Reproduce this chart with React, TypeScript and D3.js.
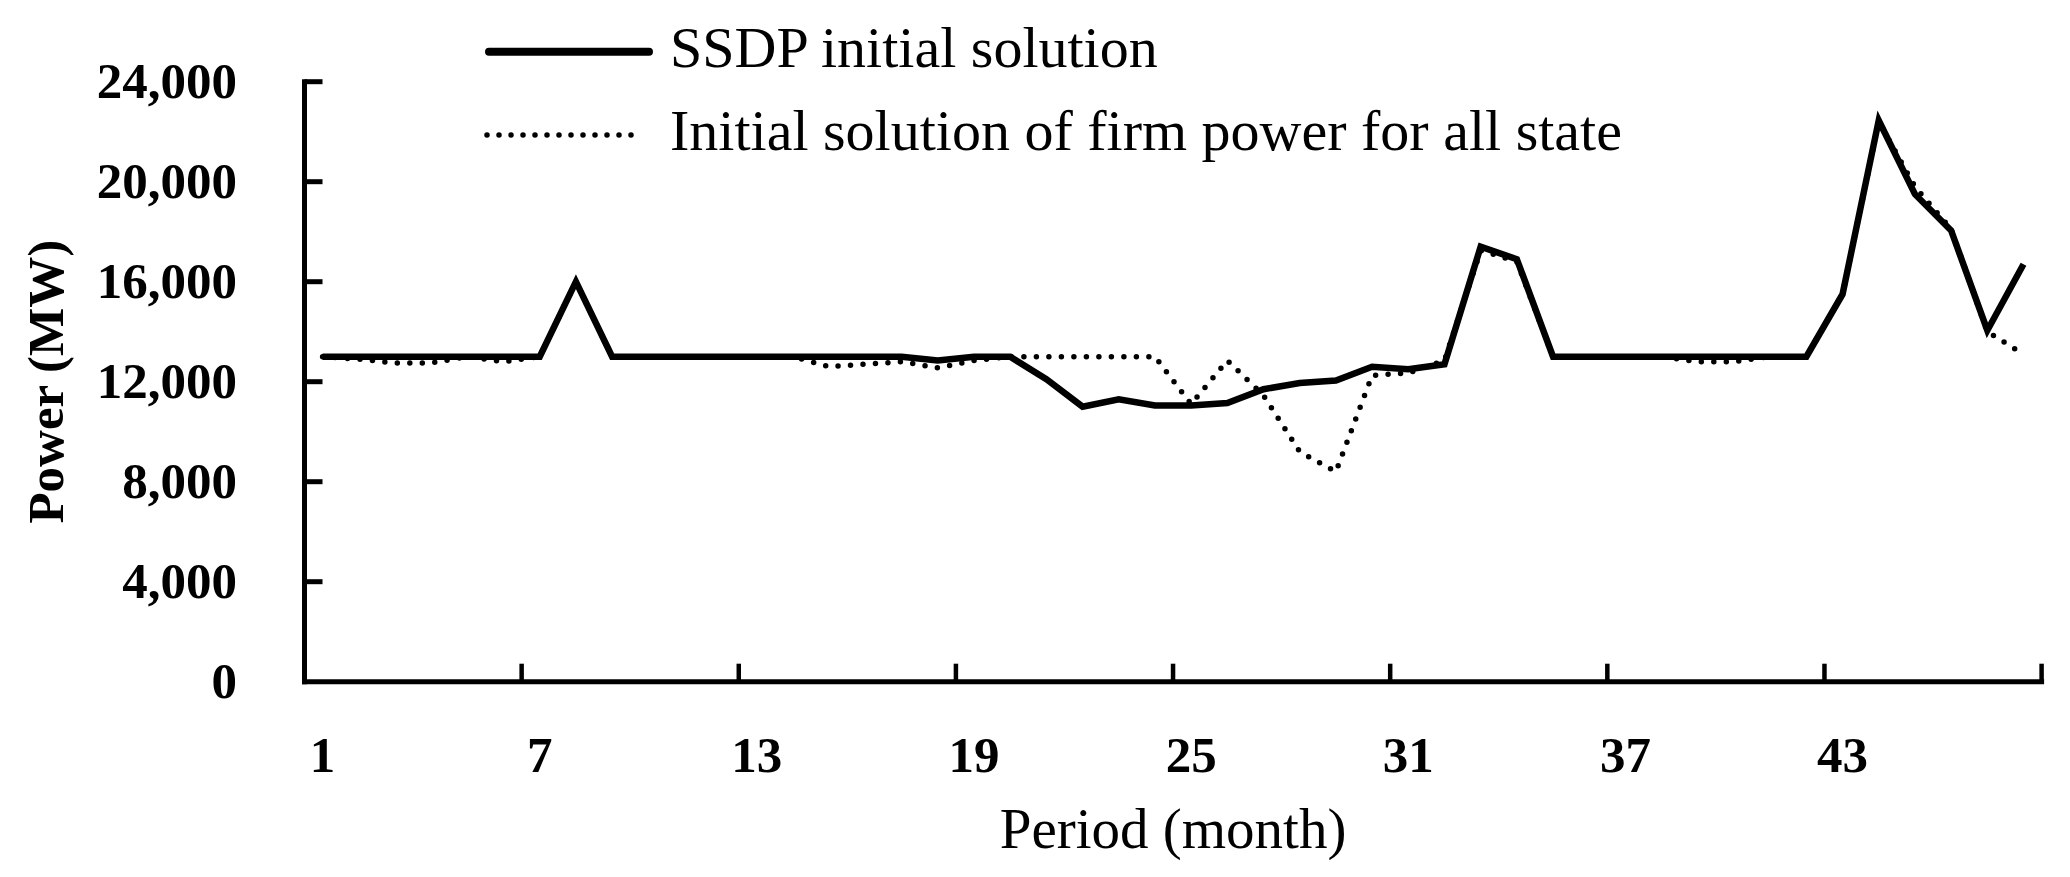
import * as d3 from "d3";
import { useEffect, useRef } from "react";

// period (month) 1..48
const months = d3.range(1, 49);

// SSDP initial solution (MW)
const ssdp = [
  13000, 13000, 13000, 13000, 13000, 13000, 13000, 16000, 13000, 13000,
  13000, 13000, 13000, 13000, 13000, 13000, 13000, 12850, 13000, 13000,
  12100, 11000, 11300, 11050, 11050, 11150, 11700, 11950, 12050, 12600,
  12500, 12700, 17400, 16900, 13000, 13000, 13000, 13000, 13000, 13000,
  13000, 13000, 15500, 22450, 19500, 18050, 14050, 16700,
];

// Initial solution of firm power for all state (MW)
const firm = [
  13000, 12900, 12750, 12750, 13000, 12800, 13000, 16000, 13000, 13000,
  13000, 13000, 13000, 13000, 12600, 12700, 12800, 12550, 12850, 13000,
  13000, 13000, 13000, 13000, 11100, 12850, 11450, 9200, 8400, 12250,
  12350, 12850, 17250, 16800, 13000, 13000, 13000, 13000, 12800, 12800,
  13000, 13000, 15500, 22400, 19800, 18100, 14000, 13100,
];

const yTicks = [0, 4000, 8000, 12000, 16000, 20000, 24000];
const xTickLabels = [1, 7, 13, 19, 25, 31, 37, 43];

const seriesNames = ["SSDP initial solution", "Initial solution of firm power for all state"];

const FONT = "'Palatino Linotype', 'Book Antiqua', Palatino, 'Liberation Serif', serif";

const App = () => {
  const ref = useRef(null);

  useEffect(() => {
    const width = 2070,
      height = 877;
    const margin = { top: 81.7, right: 28.4, bottom: 195.3, left: 304.5 };

    const svg = d3.select(ref.current);
    svg.selectAll("*").remove();

    const x = d3
      .scaleBand()
      .domain(months.map(String))
      .range([margin.left, width - margin.right])
      .padding(0);
    const y = d3
      .scaleLinear()
      .domain([0, 24000])
      .range([height - margin.bottom, margin.top]);

    const cx = (m) => x(String(m)) + x.bandwidth() / 2;
    const y0 = y(0);

    // axes
    const ax = svg.append("g").attr("stroke", "#000").attr("stroke-width", 5).attr("fill", "none");
    ax.append("line")
      .attr("x1", margin.left)
      .attr("x2", margin.left)
      .attr("y1", y0 + 2.5)
      .attr("y2", y(24000) - 2.5);
    ax.append("line")
      .attr("x1", margin.left - 2.5)
      .attr("x2", width - margin.right + 2.5)
      .attr("y1", y0)
      .attr("y2", y0);

    // y ticks (inward)
    ax.selectAll(".yt")
      .data(yTicks.filter((d) => d > 0))
      .join("line")
      .attr("x1", margin.left)
      .attr("x2", margin.left + 18)
      .attr("y1", (d) => y(d))
      .attr("y2", (d) => y(d));

    // x ticks at band edges every 6 months (inward)
    const edgeTicks = d3.range(0, 49, 6).map((k) => margin.left + k * x.bandwidth());
    ax.selectAll(".xt")
      .data(edgeTicks.slice(1))
      .join("line")
      .attr("stroke-width", 4.5)
      .attr("x1", (d) => d)
      .attr("x2", (d) => d)
      .attr("y1", y0)
      .attr("y2", y0 - 18);

    // tick labels
    svg.append("g")
      .selectAll("text")
      .data(yTicks)
      .join("text")
      .attr("x", 237)
      .attr("y", (d) => y(d) + 16)
      .attr("text-anchor", "end")
      .attr("font-family", FONT)
      .attr("font-weight", "bold")
      .attr("font-size", 51)
      .text((d) => d3.format(",")(d));

    svg.append("g")
      .selectAll("text")
      .data(xTickLabels)
      .join("text")
      .attr("x", (d) => cx(d))
      .attr("y", 772)
      .attr("text-anchor", "middle")
      .attr("font-family", FONT)
      .attr("font-weight", "bold")
      .attr("font-size", 51)
      .text((d) => d);

    // axis titles
    svg.append("text")
      .attr("x", (margin.left + width - margin.right) / 2)
      .attr("y", 848)
      .attr("text-anchor", "middle")
      .attr("font-family", FONT)
      .attr("font-size", 57)
      .text("Period (month)");

    svg.append("text")
      .attr("transform", `translate(63,${(margin.top + y0) / 2}) rotate(-90)`)
      .attr("text-anchor", "middle")
      .attr("font-family", FONT)
      .attr("font-weight", "bold")
      .attr("font-size", 51)
      .text("Power (MW)");

    // lines
    const line = d3
      .line()
      .x((d, i) => cx(months[i]))
      .y((d) => y(d));

    svg.append("path")
      .datum(firm)
      .attr("d", line)
      .attr("fill", "none")
      .attr("stroke", "#000")
      .attr("stroke-width", 5.5)
      .attr("stroke-linecap", "round")
      .attr("stroke-dasharray", "0 12.5");

    svg.append("path")
      .datum(ssdp)
      .attr("d", line)
      .attr("fill", "none")
      .attr("stroke", "#000")
      .attr("stroke-width", 6.5)
      .attr("stroke-linejoin", "miter");

    // legend
    const lg = svg.append("g");
    lg.append("line")
      .attr("x1", 489)
      .attr("x2", 649)
      .attr("y1", 51.7)
      .attr("y2", 51.7)
      .attr("stroke", "#000")
      .attr("stroke-width", 8)
      .attr("stroke-linecap", "round");
    lg.append("line")
      .attr("x1", 487)
      .attr("x2", 643)
      .attr("y1", 135)
      .attr("y2", 135)
      .attr("stroke", "#000")
      .attr("stroke-width", 5.5)
      .attr("stroke-linecap", "round")
      .attr("stroke-dasharray", "0 12");
    lg.selectAll("text")
      .data(seriesNames)
      .join("text")
      .attr("x", 670)
      .attr("y", (d, i) => (i === 0 ? 67 : 150))
      .attr("font-family", FONT)
      .attr("font-size", 58)
      .text((d) => d);
  }, []);

  return (
    <svg
      ref={ref}
      width={2070}
      height={877}
      style={{ position: "absolute", left: 0, top: 0, background: "#fff" }}
    />
  );
};

export default App;
